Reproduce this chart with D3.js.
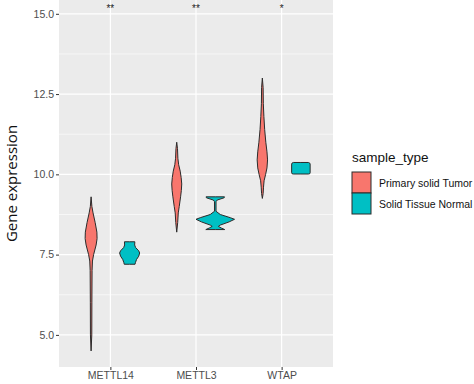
<!DOCTYPE html>
<html>
<head>
<meta charset="utf-8">
<script src="https://cdn.jsdelivr.net/npm/d3@7"></script>
<style>
  body { margin: 0; background: #fff; }
  svg { display: block; font-family: "Liberation Sans", Arial, sans-serif; }
</style>
</head>
<body>
<div id="chart"></div>
<script>
// categories and groups
const genes = ["METTL14", "METTL3", "WTAP"];
const sampleTypes = ["Primary solid Tumor", "Solid Tissue Normal"];
const fillColors = ["#F8766D", "#00BFC4"];
const yTicks = [5.0, 7.5, 10.0, 12.5, 15.0];
const stars = ["**", "**", "*"];

// violin outlines: [expression, relative half-width]
const tumorMETTL14 = [[9.3, 0], [9.0, 0.04], [8.8, 0.1], [8.5, 0.21], [8.2, 0.3], [8.0, 0.31], [7.8, 0.26],
  [7.5, 0.13], [7.3, 0.07], [7.0, 0.05], [6.0, 0.04], [5.0, 0.035], [4.5, 0]];
const normalMETTL14 = [[7.9, 0], [7.9, 0.27], [7.8, 0.26], [7.72, 0.31], [7.62, 0.47], [7.55, 0.52], [7.45, 0.47],
  [7.35, 0.36], [7.25, 0.3], [7.2, 0.28], [7.2, 0]];
const tumorMETTL3 = [[11.0, 0], [10.8, 0.04], [10.5, 0.06], [10.3, 0.1], [10.1, 0.18], [9.9, 0.23], [9.7, 0.26],
  [9.5, 0.24], [9.3, 0.2], [9.0, 0.13], [8.8, 0.08], [8.5, 0.05], [8.2, 0]];
const normalMETTL3 = [[9.3, 0], [9.3, 0.48], [9.27, 0.46], [9.2, 0.1], [9.15, 0.04], [8.85, 0.04], [8.75, 0.26],
  [8.65, 0.78], [8.6, 1.0], [8.52, 0.72], [8.42, 0.26], [8.38, 0.16], [8.33, 0.31], [8.28, 0.49], [8.28, 0]];
const tumorWTAP = [[13.0, 0], [12.7, 0.04], [12.2, 0.05], [11.8, 0.08], [11.4, 0.12], [11.0, 0.18], [10.7, 0.24],
  [10.45, 0.27], [10.2, 0.24], [10.0, 0.17], [9.8, 0.09], [9.6, 0.06], [9.4, 0.04], [9.25, 0]];
const normalWTAP = [[10.37, 0], [10.37, 0.39], [10.35, 0.46], [10.32, 0.48], [10.05, 0.48], [10.02, 0.46],
  [10.01, 0.39], [10.01, 0]];

const violins = [
  { gene: "METTL14", type: sampleTypes[0], shape: tumorMETTL14 },
  { gene: "METTL14", type: sampleTypes[1], shape: normalMETTL14 },
  { gene: "METTL3", type: sampleTypes[0], shape: tumorMETTL3 },
  { gene: "METTL3", type: sampleTypes[1], shape: normalMETTL3 },
  { gene: "WTAP", type: sampleTypes[0], shape: tumorWTAP },
  { gene: "WTAP", type: sampleTypes[1], shape: normalWTAP }
];

const width = 474, height = 384;
const margin = { top: 0, right: 141, bottom: 17, left: 59 };
const innerW = width - margin.left - margin.right;
const innerH = height - margin.top - margin.bottom;

const svg = d3.select("#chart").append("svg")
  .attr("width", width)
  .attr("height", height);

const g = svg.append("g").attr("transform", `translate(${margin.left},${margin.top})`);

// discrete x with ggplot style 0.6 expansion
const x = d3.scalePoint().domain(genes).range([0, innerW]).padding(0.6);
const step = x.step();
const dodge = d3.scaleBand().domain(sampleTypes).range([-0.45 * step, 0.45 * step]);
const y = d3.scaleLinear().domain([4.0, 15.43]).range([innerH, 0]);
const halfW = d3.scaleLinear().domain([0, 1]).range([0, 0.225 * step]);
const color = d3.scaleOrdinal().domain(sampleTypes).range(fillColors);

// panel
g.append("rect").attr("width", innerW).attr("height", innerH).attr("fill", "#EBEBEB");

const minor = [];
for (let i = 0; i < yTicks.length - 1; i++) minor.push((yTicks[i] + yTicks[i + 1]) / 2);
g.selectAll(".minor").data(minor).enter().append("line")
  .attr("x1", 0).attr("x2", innerW)
  .attr("y1", d => y(d)).attr("y2", d => y(d))
  .attr("stroke", "#fff").attr("stroke-width", 0.6);
g.selectAll(".hmajor").data(yTicks).enter().append("line")
  .attr("x1", 0).attr("x2", innerW)
  .attr("y1", d => y(d)).attr("y2", d => y(d))
  .attr("stroke", "#fff").attr("stroke-width", 1.2);
g.selectAll(".vmajor").data(genes).enter().append("line")
  .attr("y1", 0).attr("y2", innerH)
  .attr("x1", d => x(d)).attr("x2", d => x(d))
  .attr("stroke", "#fff").attr("stroke-width", 1.2);

// violins
g.selectAll(".violin").data(violins).enter().append("path")
  .attr("d", v => {
    const cx = x(v.gene) + dodge(v.type) + dodge.bandwidth() / 2;
    return d3.area()
      .y(d => y(d[0]))
      .x0(d => cx - halfW(d[1]))
      .x1(d => cx + halfW(d[1]))(v.shape);
  })
  .attr("fill", v => color(v.type))
  .attr("stroke", "#2b2b2b")
  .attr("stroke-width", 1)
  .attr("stroke-linejoin", "round");

// significance labels
g.selectAll(".star").data(genes).enter().append("text")
  .attr("x", d => x(d))
  .attr("y", 12)
  .attr("text-anchor", "middle")
  .attr("font-size", 10)
  .attr("fill", "#222")
  .text((d, i) => stars[i]);

// axes
const yAxis = g.append("g").call(d3.axisLeft(y).tickValues(yTicks).tickFormat(d3.format(".1f")).tickSize(3).tickPadding(2));
yAxis.select(".domain").remove();
yAxis.selectAll("line").attr("stroke", "#333");
yAxis.selectAll("text").attr("fill", "#4D4D4D").attr("font-size", 10.5).attr("font-family", "Liberation Sans, Arial, sans-serif");

const xAxis = g.append("g").attr("transform", `translate(0,${innerH})`)
  .call(d3.axisBottom(x).tickSize(3).tickPadding(2));
xAxis.select(".domain").remove();
xAxis.selectAll("line").attr("stroke", "#333");
xAxis.selectAll("text").attr("fill", "#4D4D4D").attr("font-size", 10.5).attr("font-family", "Liberation Sans, Arial, sans-serif");

svg.append("text")
  .attr("transform", `translate(17,${innerH / 2}) rotate(-90)`)
  .attr("text-anchor", "middle")
  .attr("font-family", "Open Sans, sans-serif")
  .attr("font-size", 15)
  .attr("fill", "#111")
  .text("Gene expression");

// legend
const legend = svg.append("g").attr("transform", "translate(352,148)");
legend.append("text").attr("x", 0).attr("y", 14).attr("font-size", 13.5).attr("fill", "#111").text("sample_type");
const items = legend.selectAll(".item").data(sampleTypes).enter().append("g")
  .attr("transform", (d, i) => `translate(0,${24 + i * 21})`);
items.append("rect").attr("width", 19).attr("height", 21)
  .attr("fill", d => color(d)).attr("stroke", "#2b2b2b").attr("stroke-width", 1);
items.append("text").attr("x", 27).attr("y", 14.5).attr("font-size", 10.5).attr("fill", "#111").text(d => d);
</script>
</body>
</html>
